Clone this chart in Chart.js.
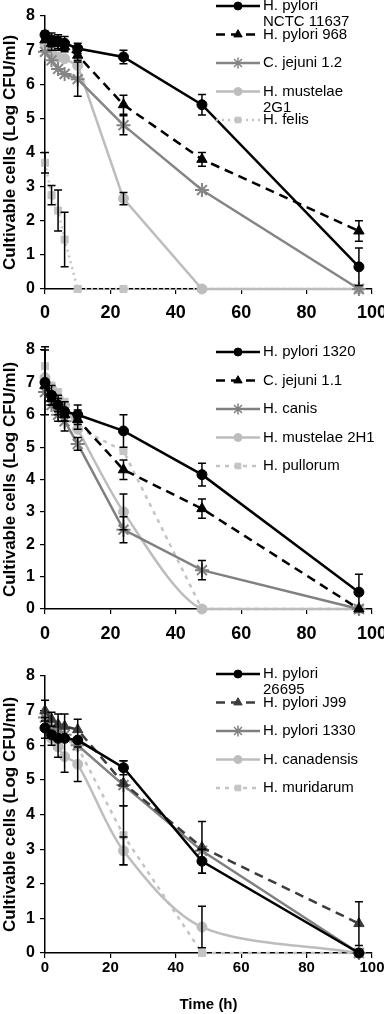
<!DOCTYPE html>
<html lang="en">
<head>
  <meta charset="UTF-8" />
  <title>Cultivable cells over time</title>
  <script src="https://cdn.jsdelivr.net/npm/chart.js"></script>
  <style>
    body { margin: 0; background: #fff; width: 384px; height: 1014px; position: relative; overflow: hidden; }
    canvas { position: absolute; left: 0; }
  </style>
</head>
<body>
  <canvas id="c1" width="384" height="330" style="top:0"></canvas>
  <canvas id="c2" width="384" height="330" style="top:330px"></canvas>
  <canvas id="c3" width="384" height="354" style="top:660px"></canvas>

  <script>
    // sampling times (h)
    const times = [0, 2, 4, 6, 10, 24, 48, 96];

    // panel 1
    const p1Labels = ['H. pylori\nNCTC 11637', 'H. pylori 968', 'C. jejuni 1.2', 'H. mustelae\n2G1', 'H. felis'];
    const nctc11637 = [7.45, 7.3, 7.25, 7.2, 7.05, 6.8, 5.4, 0.65];
    const nctc11637Err = [0.1, 0.2, 0.2, 0.2, 0.15, 0.2, 0.3, 0.55];
    const pylori968 = [7.3, 7.2, 7.2, 7.1, 6.85, 5.4, 3.8, 1.7];
    const pylori968Err = [null, 0.2, 0.2, 0.15, 0.15, 0.28, 0.2, 0.3];
    const jejuni12 = [6.95, 6.7, 6.45, 6.3, 6.15, 4.8, 2.9, 0];
    const jejuni12Err = [null, null, null, null, 0.5, 0.28, null, null];
    const mustelae2G1 = [7.2, 6.95, 6.8, 6.75, 6.55, 2.65, 0, 0];
    const mustelae2G1Err = [null, null, null, null, null, 0.18, null, null];
    const felis = [3.7, 2.75, 2.3, 1.45, 0, 0, 0, 0];
    const felisErr = [0.3, 0.28, 0.6, 0.8, null, null, null, null];

    // panel 2
    const p2Labels = ['H. pylori 1320', 'C. jejuni 1.1', 'H. canis', 'H. mustelae 2H1', 'H. pullorum'];
    const pylori1320 = [7.0, 6.6, 6.3, 6.1, 6.0, 5.5, 4.15, 0.52];
    const pylori1320Err = [1.0, 0.3, 0.3, 0.3, 0.3, 0.5, 0.35, 0.55];
    const jejuni11 = [6.9, 6.5, 6.3, 6.0, 5.85, 4.3, 3.1, 0];
    const jejuni11Err = [null, 0.2, 0.2, 0.2, 0.3, 0.3, 0.3, null];
    const canis = [6.7, 6.3, 6.0, 5.8, 5.1, 2.45, 1.2, 0];
    const canisErr = [null, null, 0.2, 0.3, 0.2, 0.4, 0.3, null];
    const mustelae2H1 = [7.15, 6.8, 6.5, 6.3, 5.55, 3.0, 0, 0];
    const mustelae2H1Err = [null, null, null, null, null, 0.55, null, null];
    const pullorum = [7.5, 6.9, 6.7, 6.4, 5.6, 4.88, 0, 0];
    const pullorumErr = [0.6, null, null, null, null, null, null, null];

    // panel 3
    const p3Labels = ['H. pylori\n26695', 'H. pylori J99', 'H. pylori 1330', 'H. canadensis', 'H. muridarum'];
    const pylori26695 = [6.5, 6.3, 6.2, 6.2, 6.15, 5.35, 2.65, 0];
    const pylori26695Err = [0.3, null, null, null, null, 0.2, 0.35, null];
    const pyloriJ99 = [7.0, 6.75, 6.6, 6.55, 6.45, 4.9, 3.05, 0.85];
    const pyloriJ99Err = [0.3, 0.2, 0.3, 0.35, 0.3, 0.65, 0.75, 0.63];
    const pylori1330 = [6.8, 6.5, 6.4, 6.3, 6.0, 4.85, 2.95, 0];
    const pylori1330Err = [null, null, null, null, null, null, null, null];
    const canadensis = [6.5, 6.2, 5.95, 5.67, 5.45, 2.95, 0.75, 0];
    const canadensisErr = [null, 0.2, 0.3, 0.45, 0.5, 0.4, 0.6, null];
    const muridarum = [6.85, 6.5, 6.35, 6.2, 5.95, 3.4, 0, 0];
    const muridarumErr = [null, null, null, null, null, 0.85, null, null];

    const FONT = "'Liberation Sans', Arial, sans-serif";

    const pts = vals => times.map((t, i) => ({ x: t, y: vals[i] }));

    // line/marker look for the five series slots
    function style(kind, color, dash) {
      const s = { borderColor: color, backgroundColor: color, borderWidth: 2.5, clip: false,
                  pointBorderColor: color, pointBackgroundColor: color, tension: 0 };
      if (kind === 'circle') Object.assign(s, { pointStyle: 'circle', pointRadius: 5, pointBorderWidth: 1 });
      if (kind === 'triangle') Object.assign(s, { pointStyle: 'triangle', pointRadius: 6, pointBorderWidth: 1 });
      if (kind === 'star') Object.assign(s, { pointStyle: 'star', pointRadius: 7, pointBorderWidth: 2 });
      if (kind === 'rect') Object.assign(s, { pointStyle: 'rect', pointRadius: 5, pointBorderWidth: 1 });
      if (dash) s.borderDash = dash;
      return s;
    }

    const errorBars = {
      id: 'errorBars',
      afterDatasetsDraw(chart) {
        const ctx = chart.ctx, xs = chart.scales.x, ys = chart.scales.y;
        ctx.save();
        ctx.strokeStyle = '#000';
        ctx.lineWidth = 1.5;
        chart.data.datasets.forEach(ds => {
          if (!ds.errors) return;
          ds.data.forEach((p, i) => {
            const e = ds.errors[i];
            if (e == null) return;
            const px = xs.getPixelForValue(p.x);
            const top = ys.getPixelForValue(p.y + e);
            const bot = ys.getPixelForValue(Math.max(0, p.y - e));
            ctx.beginPath();
            ctx.moveTo(px, top); ctx.lineTo(px, bot);
            ctx.moveTo(px - 4, top); ctx.lineTo(px + 4, top);
            ctx.moveTo(px - 4, bot); ctx.lineTo(px + 4, bot);
            ctx.stroke();
          });
        });
        ctx.restore();
      }
    };

    const sideLegend = {
      id: 'sideLegend',
      afterDraw(chart, args, opts) {
        const ctx = chart.ctx;
        chart.data.datasets.forEach((ds, i) => {
          const yy = opts.top + i * opts.gap;
          ctx.save();
          ctx.strokeStyle = ds.borderColor;
          ctx.lineWidth = 2.5;
          ctx.setLineDash(ds.borderDash || []);
          ctx.beginPath();
          ctx.moveTo(opts.x0, yy);
          ctx.lineTo(opts.x1, yy);
          ctx.stroke();
          ctx.setLineDash([]);
          ctx.fillStyle = ds.pointBackgroundColor;
          ctx.lineWidth = ds.pointStyle === 'star' ? 1.5 : 1;
          Chart.helpers.drawPoint(ctx, { pointStyle: ds.pointStyle, radius: ds.pointRadius * 0.8, rotation: 0, borderWidth: ctx.lineWidth },
            (opts.x0 + opts.x1) / 2, yy);
          ctx.fillStyle = '#000';
          ctx.font = '15px ' + FONT;
          ctx.textBaseline = 'middle';
          ds.label.split('\n').forEach((line, k) => ctx.fillText(line, opts.x1 + 3, yy + k * 16));
          ctx.restore();
        });
      }
    };

    function makeChart(id, datasets, box) {
      new Chart(document.getElementById(id), {
        type: 'line',
        data: { datasets },
        plugins: [errorBars, sideLegend],
        options: {
          responsive: false,
          animation: false,
          layout: { padding: { top: box.top, right: 12, left: 0, bottom: 0 } },
          plugins: {
            legend: { display: false },
            tooltip: { enabled: false },
            sideLegend: { x0: 216, x1: 260, top: box.legendTop, gap: 28.5 }
          },
          scales: {
            x: {
              type: 'linear', min: 0, max: 100,
              ticks: { stepSize: 20, color: '#000', padding: box.xPad, maxRotation: 0,
                       font: { family: FONT, size: box.xFont, weight: 'bold' } },
              grid: { drawOnChartArea: false, tickLength: 5, color: '#000', lineWidth: 1.2 },
              border: { color: '#000', width: 1.5 },
              title: { display: !!box.xTitle, text: box.xTitle || '', color: '#000', padding: 0,
                       font: { family: FONT, size: 15, weight: 'bold' } },
              afterFit(s) { s.height = box.xHeight; s.paddingLeft = 0; s.paddingRight = 0; }
            },
            y: {
              min: 0, max: 8,
              ticks: { stepSize: 1, color: '#000', padding: 5,
                       font: { family: FONT, size: 16, weight: 'bold' } },
              grid: { drawOnChartArea: false, tickLength: 5, color: '#000', lineWidth: 1.2 },
              border: { color: '#000', width: 1.5 },
              title: { display: true, text: 'Cultivable cells (Log CFU/ml)', color: '#000', padding: 0,
                       font: { family: FONT, size: 17, weight: 'bold' } },
              afterFit(s) { s.width = 45; s.paddingTop = 0; s.paddingBottom = 0; }
            }
          }
        }
      });
    }

    makeChart('c1', [
      { label: p1Labels[0], data: pts(nctc11637), errors: nctc11637Err, ...style('circle', '#000') },
      { label: p1Labels[1], data: pts(pylori968), errors: pylori968Err, ...style('triangle', '#000', [9, 6]) },
      { label: p1Labels[2], data: pts(jejuni12), errors: jejuni12Err, ...style('star', '#858585') },
      { label: p1Labels[3], data: pts(mustelae2G1), errors: mustelae2G1Err, ...style('circle', '#bdbdbd') },
      { label: p1Labels[4], data: pts(felis), errors: felisErr, ...style('rect', '#c4c4c4', [2, 4]) }
    ], { top: 16, xHeight: 41, legendTop: 6, xFont: 18, xPad: 8 });

    makeChart('c2', [
      { label: p2Labels[0], data: pts(pylori1320), errors: pylori1320Err, ...style('circle', '#000') },
      { label: p2Labels[1], data: pts(jejuni11), errors: jejuni11Err, ...style('triangle', '#000', [9, 6]) },
      { label: p2Labels[2], data: pts(canis), errors: canisErr, ...style('star', '#808080') },
      { label: p2Labels[3], data: pts(mustelae2H1), errors: mustelae2H1Err, ...style('circle', '#bdbdbd'), tension: 0.25 },
      { label: p2Labels[4], data: pts(pullorum), errors: pullorumErr, ...style('rect', '#c4c4c4', [4, 5]) }
    ], { top: 20, xHeight: 51, legendTop: 22, xFont: 18, xPad: 9 });

    makeChart('c3', [
      { label: p3Labels[0], data: pts(pylori26695), errors: pylori26695Err, ...style('circle', '#000') },
      { label: p3Labels[1], data: pts(pyloriJ99), errors: pyloriJ99Err, ...style('triangle', '#3c3c3c', [9, 6]) },
      { label: p3Labels[2], data: pts(pylori1330), errors: pylori1330Err, ...style('star', '#808080') },
      { label: p3Labels[3], data: pts(canadensis), errors: canadensisErr, ...style('circle', '#bdbdbd'), tension: 0.3 },
      { label: p3Labels[4], data: pts(muridarum), errors: muridarumErr, ...style('rect', '#c4c4c4', [4, 5]) }
    ], { top: 16, xHeight: 61, legendTop: 14, xTitle: 'Time (h)', xFont: 15, xPad: 1 });
  </script>
</body>
</html>
